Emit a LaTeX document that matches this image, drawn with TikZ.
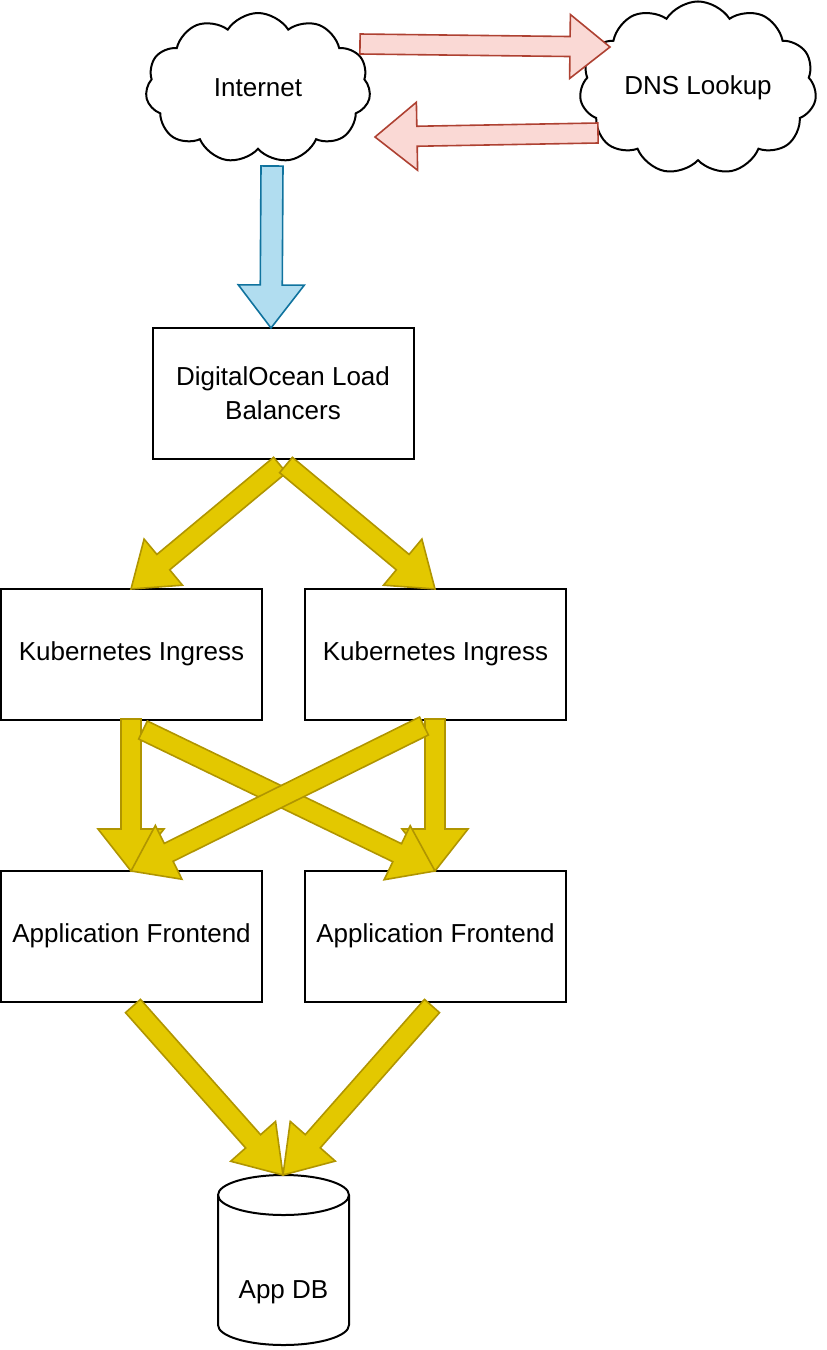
\documentclass[tikz,border=0pt]{standalone}
\usepackage{fontspec}
\setmainfont{Liberation Sans}
\usetikzlibrary{shapes.symbols,calc}
\definecolor{yf}{HTML}{E3C800}\definecolor{ys}{HTML}{B09500}
\definecolor{rf}{HTML}{FAD9D5}\definecolor{rs}{HTML}{AE4132}
\definecolor{bf}{HTML}{B1DDF0}\definecolor{bs}{HTML}{10739E}
\newcommand\barrow[6]{% style, from, to, body half, head half, head len
 \path let \p1=(#2), \p2=(#3), \n1={atan2(\y2-\y1,\x2-\x1)}, \n2={veclen(\x2-\x1,\y2-\y1)} in
 \pgfextra{\xdef\bang{\n1}\xdef\blen{\n2}};
 \begin{scope}[shift={(#2)}, rotate=\bang]
 \draw[#1] (0pt,-#4pt) -- ({\blen-#6pt},-#4pt) -- ({\blen-#6pt},-#5pt) -- (\blen,0pt)
   -- ({\blen-#6pt},#5pt) -- ({\blen-#6pt},#4pt) -- (0pt,#4pt) -- cycle;
 \end{scope}}
\tikzset{
 txt/.style={font=\fontsize{26}{34}\selectfont},
 box/.style={draw,line width=2pt,minimum width=261pt,minimum height=131pt,align=center,txt},
 cl/.style={draw,cloud,cloud puffs=11,cloud puff arc=115,aspect=1.5,line width=2pt,minimum width=225pt,minimum height=150pt,txt},
 ya/.style={fill=yf,draw=ys,line width=1.6pt},
 ra/.style={fill=rf,draw=rs,line width=1.6pt},
 ba/.style={fill=bf,draw=bs,line width=1.6pt}}
\begin{document}
\begin{tikzpicture}[x=1pt,y=-1pt]
\useasboundingbox (0,0) rectangle (827,1350);
\node[cl] (inet) at (258,88) {Internet};
\node[cl,minimum width=237pt] (dns) at (698,88) {DNS Lookup};
\node[box] (lb) at (283,393.5) {DigitalOcean Load\\Balancers};
\node[box] (ing1) at (131.5,654) {Kubernetes Ingress};
\node[box] (ing2) at (435.5,654) {Kubernetes Ingress};
\node[box] (fe1) at (131.5,936) {Application Frontend};
\node[box] (fe2) at (435.5,936) {Application Frontend};
% DB cylinder
\draw[line width=2pt,fill=white] (218,1195) -- (218,1325) arc[start angle=180,end angle=0,x radius=65.5,y radius=20] -- (349,1195) arc[start angle=0,end angle=-180,x radius=65.5,y radius=20];
\draw[line width=2pt] (218,1195) arc[start angle=180,end angle=0,x radius=65.5,y radius=20];
\node[txt] (db) at (283.5,1292) {App DB};
\coordinate (dbt) at (283,1175);
% arrows
\coordinate (r1s) at (360,44); \coordinate (r1e) at (610,47);
\coordinate (r2s) at (598,133); \coordinate (r2e) at (375,137);
\coordinate (bs) at (272,166); \coordinate (be) at (271,328);
\barrow{ra}{r1s}{r1e}{10}{32}{40}
\barrow{ra}{r2s}{r2e}{10}{34}{42}
\barrow{ba}{bs}{be}{11}{33}{43}
\coordinate (l1) at (280,465); \coordinate (l2) at (286,465);
\coordinate (i1t) at (131,589); \coordinate (i2t) at (435,589);
\barrow{ya}{l1}{i1t}{10}{30}{42}
\barrow{ya}{l2}{i2t}{10}{30}{42}
\coordinate (i1a) at (131,719); \coordinate (i1b) at (143,730);
\coordinate (i2a) at (435,719); \coordinate (i2b) at (424,726);
\coordinate (f1t) at (131,871); \coordinate (f2t) at (435,871);
\barrow{ya}{i1a}{f1t}{10}{33}{42}
\barrow{ya}{i2a}{f2t}{10}{33}{42}
\barrow{ya}{i1b}{f2t}{10}{30}{42}
\barrow{ya}{i2b}{f1t}{10}{30}{42}
\coordinate (f1b) at (133,1006); \coordinate (f2b) at (432,1006);
\barrow{ya}{f1b}{dbt}{10}{30}{45}
\barrow{ya}{f2b}{dbt}{10}{30}{45}
\end{tikzpicture}
\end{document}
